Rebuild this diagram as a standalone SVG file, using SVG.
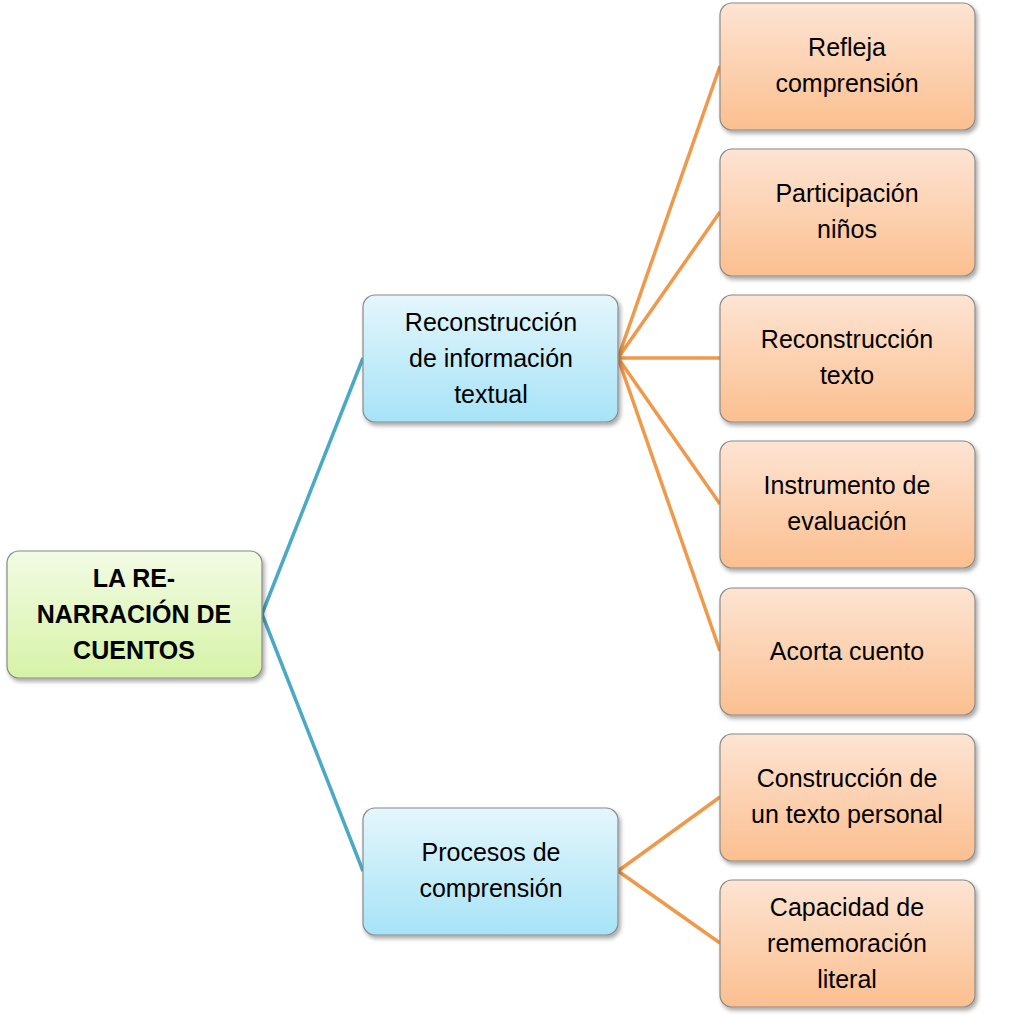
<svg xmlns="http://www.w3.org/2000/svg" width="1018" height="1015" viewBox="0 0 1018 1015">
<style>
text{font-family:"Liberation Sans",Arial,sans-serif;font-size:25px;fill:#000;text-anchor:middle}
.b{font-weight:bold}
.o{fill:url(#go);stroke:#8a8a8a;stroke-width:1.2}
.c{fill:url(#gb);stroke:#8a8a8a;stroke-width:1.2}
.g{fill:url(#gg);stroke:#8a8a8a;stroke-width:1.2}
.lb{stroke:#4aa9c4;stroke-width:3.5;fill:none}
.lo{stroke:#f0994a;stroke-width:3.5;fill:none}
</style>
<defs>
<linearGradient id="go" x1="0" y1="0" x2="0" y2="1"><stop offset="0" stop-color="#fde4d3"/><stop offset="1" stop-color="#fbbf8f"/></linearGradient>
<linearGradient id="gb" x1="0" y1="0" x2="0" y2="1"><stop offset="0" stop-color="#e4f6fc"/><stop offset="1" stop-color="#a6e3f7"/></linearGradient>
<linearGradient id="gg" x1="0" y1="0" x2="0" y2="1"><stop offset="0" stop-color="#f2fbe4"/><stop offset="1" stop-color="#d6f3a6"/></linearGradient>
<filter id="sh" x="-10%" y="-10%" width="125%" height="130%"><feDropShadow dx="2" dy="3" stdDeviation="2" flood-color="#000" flood-opacity="0.35"/></filter>
</defs>
<g id="connectors">
<path class="lb" d="M262 614L363 358M262 614L363 871"/>
<path class="lo" d="M618 358L720 66M618 358L720 212M618 358L720 358M618 358L720 504M618 358L720 651M618 871L720 797M618 871L720 943"/>
</g>
<g id="root"><rect class="g" filter="url(#sh)" x="7" y="551" width="255" height="127" rx="12"/>
<text class="b" x="134" y="587">LA RE-</text><text class="b" x="134" y="623">NARRACIÓN DE</text><text class="b" x="134" y="659">CUENTOS</text></g>
<g id="m1"><rect class="c" filter="url(#sh)" x="363" y="295" width="255" height="127" rx="12"/>
<text x="491" y="331">Reconstrucción</text><text x="491" y="367">de información</text><text x="491" y="403">textual</text></g>
<g id="m2"><rect class="c" filter="url(#sh)" x="363" y="808" width="255" height="127" rx="12"/>
<text x="491" y="861">Procesos de</text><text x="491" y="897">comprensión</text></g>
<g id="l1"><rect class="o" filter="url(#sh)" x="720" y="3" width="255" height="127" rx="12"/>
<text x="847" y="56">Refleja</text><text x="847" y="92">comprensión</text></g>
<g id="l2"><rect class="o" filter="url(#sh)" x="720" y="149" width="255" height="127" rx="12"/>
<text x="847" y="202">Participación</text><text x="847" y="238">niños</text></g>
<g id="l3"><rect class="o" filter="url(#sh)" x="720" y="295" width="255" height="127" rx="12"/>
<text x="847" y="348">Reconstrucción</text><text x="847" y="384">texto</text></g>
<g id="l4"><rect class="o" filter="url(#sh)" x="720" y="441" width="255" height="127" rx="12"/>
<text x="847" y="494">Instrumento  de</text><text x="847" y="530">evaluación</text></g>
<g id="l5"><rect class="o" filter="url(#sh)" x="720" y="588" width="255" height="127" rx="12"/>
<text x="847" y="660">Acorta cuento</text></g>
<g id="l6"><rect class="o" filter="url(#sh)" x="720" y="734" width="255" height="127" rx="12"/>
<text x="847" y="787">Construcción  de</text><text x="847" y="823">un texto personal</text></g>
<g id="l7"><rect class="o" filter="url(#sh)" x="720" y="880" width="255" height="127" rx="12"/>
<text x="847" y="916">Capacidad de</text><text x="847" y="952">rememoración</text><text x="847" y="988">literal</text></g>
</svg>
